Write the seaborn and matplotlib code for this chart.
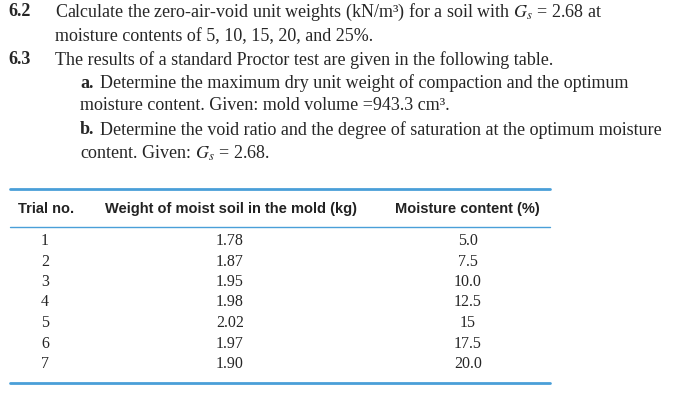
import matplotlib
matplotlib.use("Agg")
import matplotlib.pyplot as plt
import seaborn as sns

sns.set_theme(style="white")
plt.rcParams['font.family'] = ['Liberation Serif', 'DejaVu Serif']
plt.rcParams['mathtext.fontset'] = 'stix'

# problem text
problems = [
    ("6.2", 55, 12, "Calculate the zero-air-void unit weights (kN/m³) for a soil with $G_s$ = 2.68 at"),
    ("", 55, 37, "moisture contents of 5, 10, 15, 20, and 25%."),
    ("6.3", 55, 60, "The results of a standard Proctor test are given in the following table."),
    ("a.", 80, 83, "Determine the maximum dry unit weight of compaction and the optimum"),
    ("", 80, 106, "moisture content. Given: mold volume =943.3 cm³."),
    ("b.", 80, 130, "Determine the void ratio and the degree of saturation at the optimum moisture"),
    ("", 80, 153, "content. Given: $G_s$ = 2.68."),
]

# table data
headers = ["Trial no.", "Weight of moist soil in the mold (kg)", "Moisture content (%)"]
trial_no = ["1", "2", "3", "4", "5", "6", "7"]
weight_kg = ["1.78", "1.87", "1.95", "1.98", "2.02", "1.97", "1.90"]
moisture = ["5.0", "7.5", "10.0", "12.5", "15", "17.5", "20.0"]

fig = plt.figure(figsize=(6.88, 4.01), dpi=100)
ax = fig.add_axes([0, 0, 1, 1])
ax.set_xlim(0, 688)
ax.set_ylim(401, 0)
ax.axis("off")

for num, x, y, txt in problems:
    if num:
        ax.text(8 if num.startswith("6") else x, y, num, fontsize=13, fontweight="bold",
                va="center", ha="left")
    ax.text(x + (20 if num in ("a.", "b.") else 0), y, txt, fontsize=13,
            va="center", ha="left")

blue = "#4a9fd8"
ax.plot([10, 550], [189, 189], color=blue, lw=2)
ax.plot([10, 550], [227, 227], color=blue, lw=1)
ax.plot([10, 550], [383, 383], color=blue, lw=2)

for x, h in zip([18, 105, 395], headers):
    ax.text(x, 209, h, fontsize=10.5, family=["Liberation Sans", "DejaVu Sans"],
            va="center", ha="left", fontweight="bold", color="#222222")

for i, (t, w, m) in enumerate(zip(trial_no, weight_kg, moisture)):
    y = 241 + i * 20.5
    ax.text(45, y, t, fontsize=11.5, ha="center", va="center")
    ax.text(230, y, w, fontsize=11.5, ha="center", va="center")
    ax.text(468, y, m, fontsize=11.5, ha="center", va="center")

fig.savefig("out.png", dpi=100)
